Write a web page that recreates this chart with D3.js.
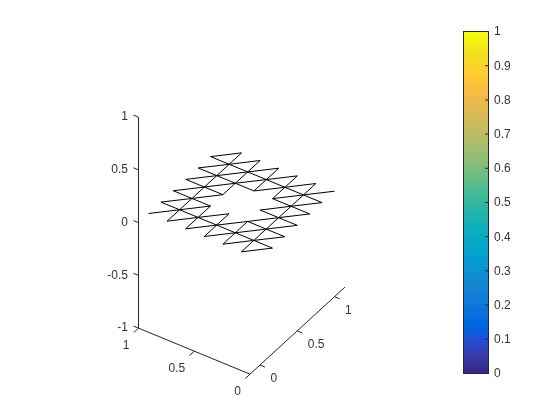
<!DOCTYPE html>
<html>
<head>
<meta charset="utf-8">
<script src="https://cdnjs.cloudflare.com/ajax/libs/d3/7.8.5/d3.min.js"></script>
<style>
  html, body { margin: 0; padding: 0; background: #fff; }
  svg { display: block; }
  text { font-family: "Liberation Sans", Arial, sans-serif; font-size: 12px; fill: #333; }
  .labels { filter: grayscale(1); }
</style>
</head>
<body>
<div id="chart"></div>
<script>
const svgWidth = 560;
const svgHeight = 420;

// mesh node values
const gridX = [1, 0.833, 0.667, 0.5, 0.333, 0.167, 0];
const gridY = [0, 0.167, 0.333, 0.5, 0.667, 0.833, 1];
const meshZ = 0;

// runs of mesh edges, as [i0, j0, i1, j1] into gridX / gridY
const runsAlongX = [
    [0,5,6,5], [0,4,3,4], [4,4,6,4], [0,3,2,3], [4,3,6,3], [0,2,2,2], [4,2,6,2], [0,1,6,1]
];
const runsAlongY = [
    [1,0,1,6], [2,0,2,2], [2,3,2,6], [3,0,3,2], [3,4,3,6], [4,0,4,2], [4,4,4,6], [5,0,5,6]
];
const runsDiagonal = [
    [0,0,2,2], [4,4,6,6], [0,1,2,3], [3,4,5,6], [0,2,4,6], [0,3,3,6], [0,4,2,6], [0,5,1,6],
    [1,0,3,2], [4,3,6,5], [2,0,6,4], [3,0,6,3], [4,0,6,2], [5,0,6,1]
];

// axis ticks and limits
const xTicks = [0, 0.5, 1];
const yTicks = [0, 0.5, 1];
const zTicks = [-1, -0.5, 0, 0.5, 1];
const yLimits = [-0.134, 1.14];
const barTicks = [0, 0.1, 0.2, 0.3, 0.4, 0.5, 0.6, 0.7, 0.8, 0.9, 1];

// parula, 64 levels
const parula = [
    [0.2081,0.1663,0.5292],[0.2116,0.1898,0.5777],[0.2123,0.2138,0.6270],[0.2081,0.2386,0.6771],
    [0.1959,0.2645,0.7279],[0.1707,0.2919,0.7792],[0.1253,0.3242,0.8303],[0.0591,0.3598,0.8683],
    [0.0117,0.3875,0.8820],[0.0060,0.4086,0.8828],[0.0165,0.4266,0.8786],[0.0329,0.4430,0.8720],
    [0.0498,0.4586,0.8641],[0.0629,0.4737,0.8554],[0.0723,0.4887,0.8467],[0.0779,0.5040,0.8384],
    [0.0793,0.5200,0.8312],[0.0749,0.5375,0.8263],[0.0641,0.5570,0.8240],[0.0488,0.5772,0.8228],
    [0.0343,0.5966,0.8199],[0.0265,0.6137,0.8135],[0.0239,0.6287,0.8038],[0.0231,0.6418,0.7913],
    [0.0228,0.6535,0.7768],[0.0267,0.6642,0.7607],[0.0384,0.6743,0.7436],[0.0590,0.6838,0.7254],
    [0.0843,0.6928,0.7062],[0.1133,0.7015,0.6859],[0.1453,0.7098,0.6646],[0.1801,0.7177,0.6424],
    [0.2178,0.7250,0.6193],[0.2586,0.7317,0.5954],[0.3022,0.7376,0.5712],[0.3482,0.7424,0.5473],
    [0.3953,0.7459,0.5244],[0.4420,0.7481,0.5033],[0.4871,0.7491,0.4840],[0.5300,0.7491,0.4661],
    [0.5709,0.7485,0.4494],[0.6099,0.7473,0.4337],[0.6473,0.7456,0.4188],[0.6834,0.7435,0.4044],
    [0.7184,0.7411,0.3905],[0.7525,0.7384,0.3768],[0.7858,0.7356,0.3633],[0.8185,0.7327,0.3498],
    [0.8507,0.7299,0.3360],[0.8824,0.7274,0.3217],[0.9139,0.7258,0.3063],[0.9450,0.7261,0.2886],
    [0.9739,0.7314,0.2666],[0.9938,0.7455,0.2403],[0.9990,0.7653,0.2164],[0.9955,0.7861,0.1967],
    [0.9880,0.8066,0.1794],[0.9789,0.8271,0.1633],[0.9697,0.8481,0.1475],[0.9626,0.8705,0.1309],
    [0.9589,0.8949,0.1132],[0.9598,0.9218,0.0948],[0.9661,0.9514,0.0755],[0.9763,0.9831,0.0538]
];

const axisColor = "#262626";

let svg = d3.select("#chart").append("svg").attr("width", svgWidth).attr("height", svgHeight);

// oblique projection: one scale per screen component of each data axis
const originX = 260, originY = 365;
const xToLeft = d3.scaleLinear().domain([0, 1]).range([0, -111.5]);
const xToTop = d3.scaleLinear().domain([0, 1]).range([0, -46]);
const yToLeft = d3.scaleLinear().domain([0, 1]).range([0, 74.5]);
const yToTop = d3.scaleLinear().domain([0, 1]).range([0, -68.3]);
const zToTop = d3.scaleLinear().domain([-1, 1]).range([0, -211]);

const project = (x, y, z) => [
    originX + xToLeft(x) + yToLeft(y),
    originY + xToTop(x) + yToTop(y) + zToTop(z)
];

const line = d3.line();
const axes = svg.append("g").attr("fill", "none").attr("stroke", axisColor).attr("stroke-width", 1);

// box edges
axes.append("path").attr("d", line([project(1, yLimits[0], -1), project(1, yLimits[0], 1)]));
axes.append("path").attr("d", line([project(1, yLimits[0], -1), project(0, yLimits[0], -1)]));
axes.append("path").attr("d", line([project(0, yLimits[0], -1), project(0, yLimits[1], -1)]));

// ticks
const tickStep = 0.045;
xTicks.forEach(v => {
    axes.append("path").attr("d", line([project(v, yLimits[0], -1), project(v, yLimits[0] - tickStep * 1.4, -1)]));
});
yTicks.forEach(v => {
    axes.append("path").attr("d", line([project(0, v, -1), project(-tickStep, v, -1)]));
});
zTicks.forEach(v => {
    axes.append("path").attr("d", line([project(1, yLimits[0], v), project(1 + tickStep, yLimits[0], v)]));
});

// tick labels
const labels = svg.append("g").attr("class", "labels");
const fmt = d => String(d);
labels.selectAll(".xl").data(xTicks).enter().append("text")
    .attr("x", d => project(d, yLimits[0], -1)[0] - 9)
    .attr("y", d => project(d, yLimits[0], -1)[1] + 16.5)
    .attr("dy", "0.35em").attr("text-anchor", "end").text(fmt);
labels.selectAll(".yl").data(yTicks).enter().append("text")
    .attr("x", d => project(0, d, -1)[0] + 10.5)
    .attr("y", d => project(0, d, -1)[1] + 13)
    .attr("dy", "0.35em").attr("text-anchor", "start").text(fmt);
labels.selectAll(".zl").data(zTicks).enter().append("text")
    .attr("x", project(1, yLimits[0], 0)[0] - 10.5)
    .attr("y", d => project(1, yLimits[0], d)[1] - 1)
    .attr("dy", "0.35em").attr("text-anchor", "end").text(fmt);

// mesh
const allRuns = runsAlongX.concat(runsAlongY, runsDiagonal);
const runPoints = r => {
    const steps = Math.max(Math.abs(r[2] - r[0]), Math.abs(r[3] - r[1]));
    const di = Math.sign(r[2] - r[0]), dj = Math.sign(r[3] - r[1]);
    return d3.range(steps + 1).map(k => project(gridX[r[0] + k * di], gridY[r[1] + k * dj], meshZ));
};
svg.append("g").selectAll("path").data(allRuns).enter().append("path")
    .attr("d", d => line(runPoints(d)))
    .attr("fill", "none").attr("stroke", "#000").attr("stroke-width", 1);

// colorbar
const barLeft = 463, barWidth = 25, barTop = 31, barBottom = 373;
const barScale = d3.scaleLinear().domain([0, 1]).range([barBottom, barTop]);
const bar = svg.append("g").attr("shape-rendering", "crispEdges");
bar.selectAll("rect").data(parula).enter().append("rect")
    .attr("x", barLeft).attr("width", barWidth)
    .attr("y", (d, i) => barScale((i + 1) / parula.length))
    .attr("height", (d, i) => barScale(i / parula.length) - barScale((i + 1) / parula.length) + 0.5)
    .attr("fill", d => d3.rgb(d[0] * 255, d[1] * 255, d[2] * 255));
bar.append("rect")
    .attr("x", barLeft).attr("y", barTop).attr("width", barWidth).attr("height", barBottom - barTop)
    .attr("fill", "none").attr("stroke", axisColor).attr("stroke-width", 1);
const barAxis = svg.append("g")
    .attr("class", "labels")
    .attr("transform", `translate(${barLeft + barWidth},0)`)
    .call(d3.axisRight(barScale).tickValues(barTicks).tickFormat(fmt).tickSize(-3).tickPadding(6));
barAxis.select(".domain").remove();
barAxis.selectAll("line").attr("stroke", axisColor).attr("stroke-width", 1);
barAxis.selectAll("text").attr("fill", null);
barAxis.attr("font-size", null).attr("font-family", null);
</script>
</body>
</html>
